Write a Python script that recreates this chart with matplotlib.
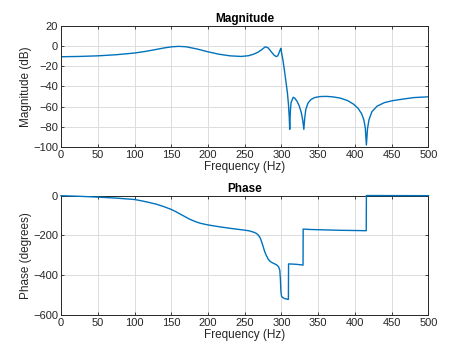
import matplotlib
matplotlib.use("Agg")
import matplotlib.pyplot as plt

# Magnitude response
mag_freq = [0, 25, 50, 75, 100, 115, 130, 140, 150, 160, 170, 185, 200, 215, 230, 245,
            255, 262, 268, 273, 278, 282, 286, 290, 293, 295, 297, 298.5, 299.2,
            300, 302, 304, 306, 308, 309.5, 310.5, 311.2, 312, 313, 315.9, 318,
            321, 324, 327, 329, 330.4, 331.5, 333, 336, 340, 345, 352, 361, 370,
            380, 390, 398, 404, 409, 412, 414, 415.5, 417, 419, 423, 430, 440,
            450, 465, 480, 500]
mag_db = [-10.5, -10.2, -9.6, -8.5, -6.8, -5.2, -3.2, -1.8, -0.7, -0.2, -0.6, -2.8, -5.6, -8.0, -9.6, -10.2,
          -9.5, -8.0, -6.0, -3.5, -0.6, -1.8, -5.5, -9.0, -10.4, -9.5, -6.0, -3.0, -2.1,
          -6.0, -14.0, -24.0, -35.0, -46.0, -58.0, -70.0, -82.5, -65.0, -56.0, -50.7, -51.5,
          -54.5, -59.0, -66.0, -74.0, -82.5, -72.0, -63.0, -56.5, -53.0, -51.0, -50.0, -49.8, -50.3,
          -51.5, -54.0, -57.5, -61.5, -67.0, -73.0, -81.0, -98.0, -82.0, -73.0, -65.0, -59.5, -56.0,
          -54.2, -52.5, -51.0, -50.2]

# Phase response
ph_freq = [0, 25, 50, 75, 100, 110, 120, 130, 140, 150, 155, 160, 165, 170, 175, 180,
           185, 190, 200, 215, 230, 243, 255, 261, 265, 268, 271, 273, 275, 277,
           279, 282, 285, 289, 293, 296, 297.7, 298.5, 299.2, 300, 301.4, 304,
           308.2, 309.4, 309.6, 315, 320, 325, 329.3, 329.5, 340, 360, 380, 400,
           415.3, 415.5, 430, 450, 470, 500]
ph_deg = [0, -3, -7, -12, -19, -26, -34, -43, -55, -69, -78, -88, -98, -108, -118, -126,
          -133, -139, -147, -156, -164, -170, -176, -182, -188, -196, -212, -232, -255, -280,
          -298, -320, -332, -340, -347, -357, -375, -420, -480, -505, -512, -517,
          -521, -521, -343, -344, -345, -347, -349, -168, -170, -172, -174, -175,
          -176, 0.8, 0.8, 0.6, 0.4, 0.2]

xticks = [0, 50, 100, 150, 200, 250, 300, 350, 400, 450, 500]
mag_yticks = [-100, -80, -60, -40, -20, 0, 20]
ph_yticks = [-600, -400, -200, 0]

plt.rcParams['font.family'] = ['Liberation Sans', 'DejaVu Sans']
line_color = '#0072BD'
axis_color = '#262626'

fig = plt.figure(figsize=(4.74, 3.55), dpi=100)
fig.patch.set_facecolor('white')

ax1 = fig.add_axes([0.1287, 0.5859, 0.7753, 0.3409])
ax2 = fig.add_axes([0.1287, 0.1127, 0.7753, 0.3360])


def style(ax):
    ax.set_xlim(0, 500)
    ax.set_xticks(xticks)
    ax.grid(True, color='#dcdcdc', linewidth=0.7)
    ax.set_axisbelow(True)
    for s in ax.spines.values():
        s.set_color(axis_color)
        s.set_linewidth(0.7)
    ax.tick_params(direction='in', length=2.5, width=0.6, colors=axis_color,
                   labelsize=8, pad=2, top=True, right=True)
    ax.set_xlabel('Frequency (Hz)', fontsize=8.5, color=axis_color, labelpad=1)


ax1.plot(mag_freq, mag_db, color=line_color, linewidth=1.0)
style(ax1)
ax1.set_ylim(-100, 20)
ax1.set_yticks(mag_yticks)
ax1.set_ylabel('Magnitude (dB)', fontsize=8.5, color=axis_color, labelpad=1)
ax1.set_title('Magnitude', fontsize=8.5, fontweight='bold', color='black', pad=3)

ax2.plot(ph_freq, ph_deg, color=line_color, linewidth=1.0, zorder=3, clip_on=False)
style(ax2)
ax2.set_ylim(-600, 0)
ax2.set_yticks(ph_yticks)
ax2.set_ylabel('Phase (degrees)', fontsize=8.5, color=axis_color, labelpad=1)
ax2.set_title('Phase', fontsize=8.5, fontweight='bold', color='black', pad=3)

fig.savefig('out.png', dpi=100)
